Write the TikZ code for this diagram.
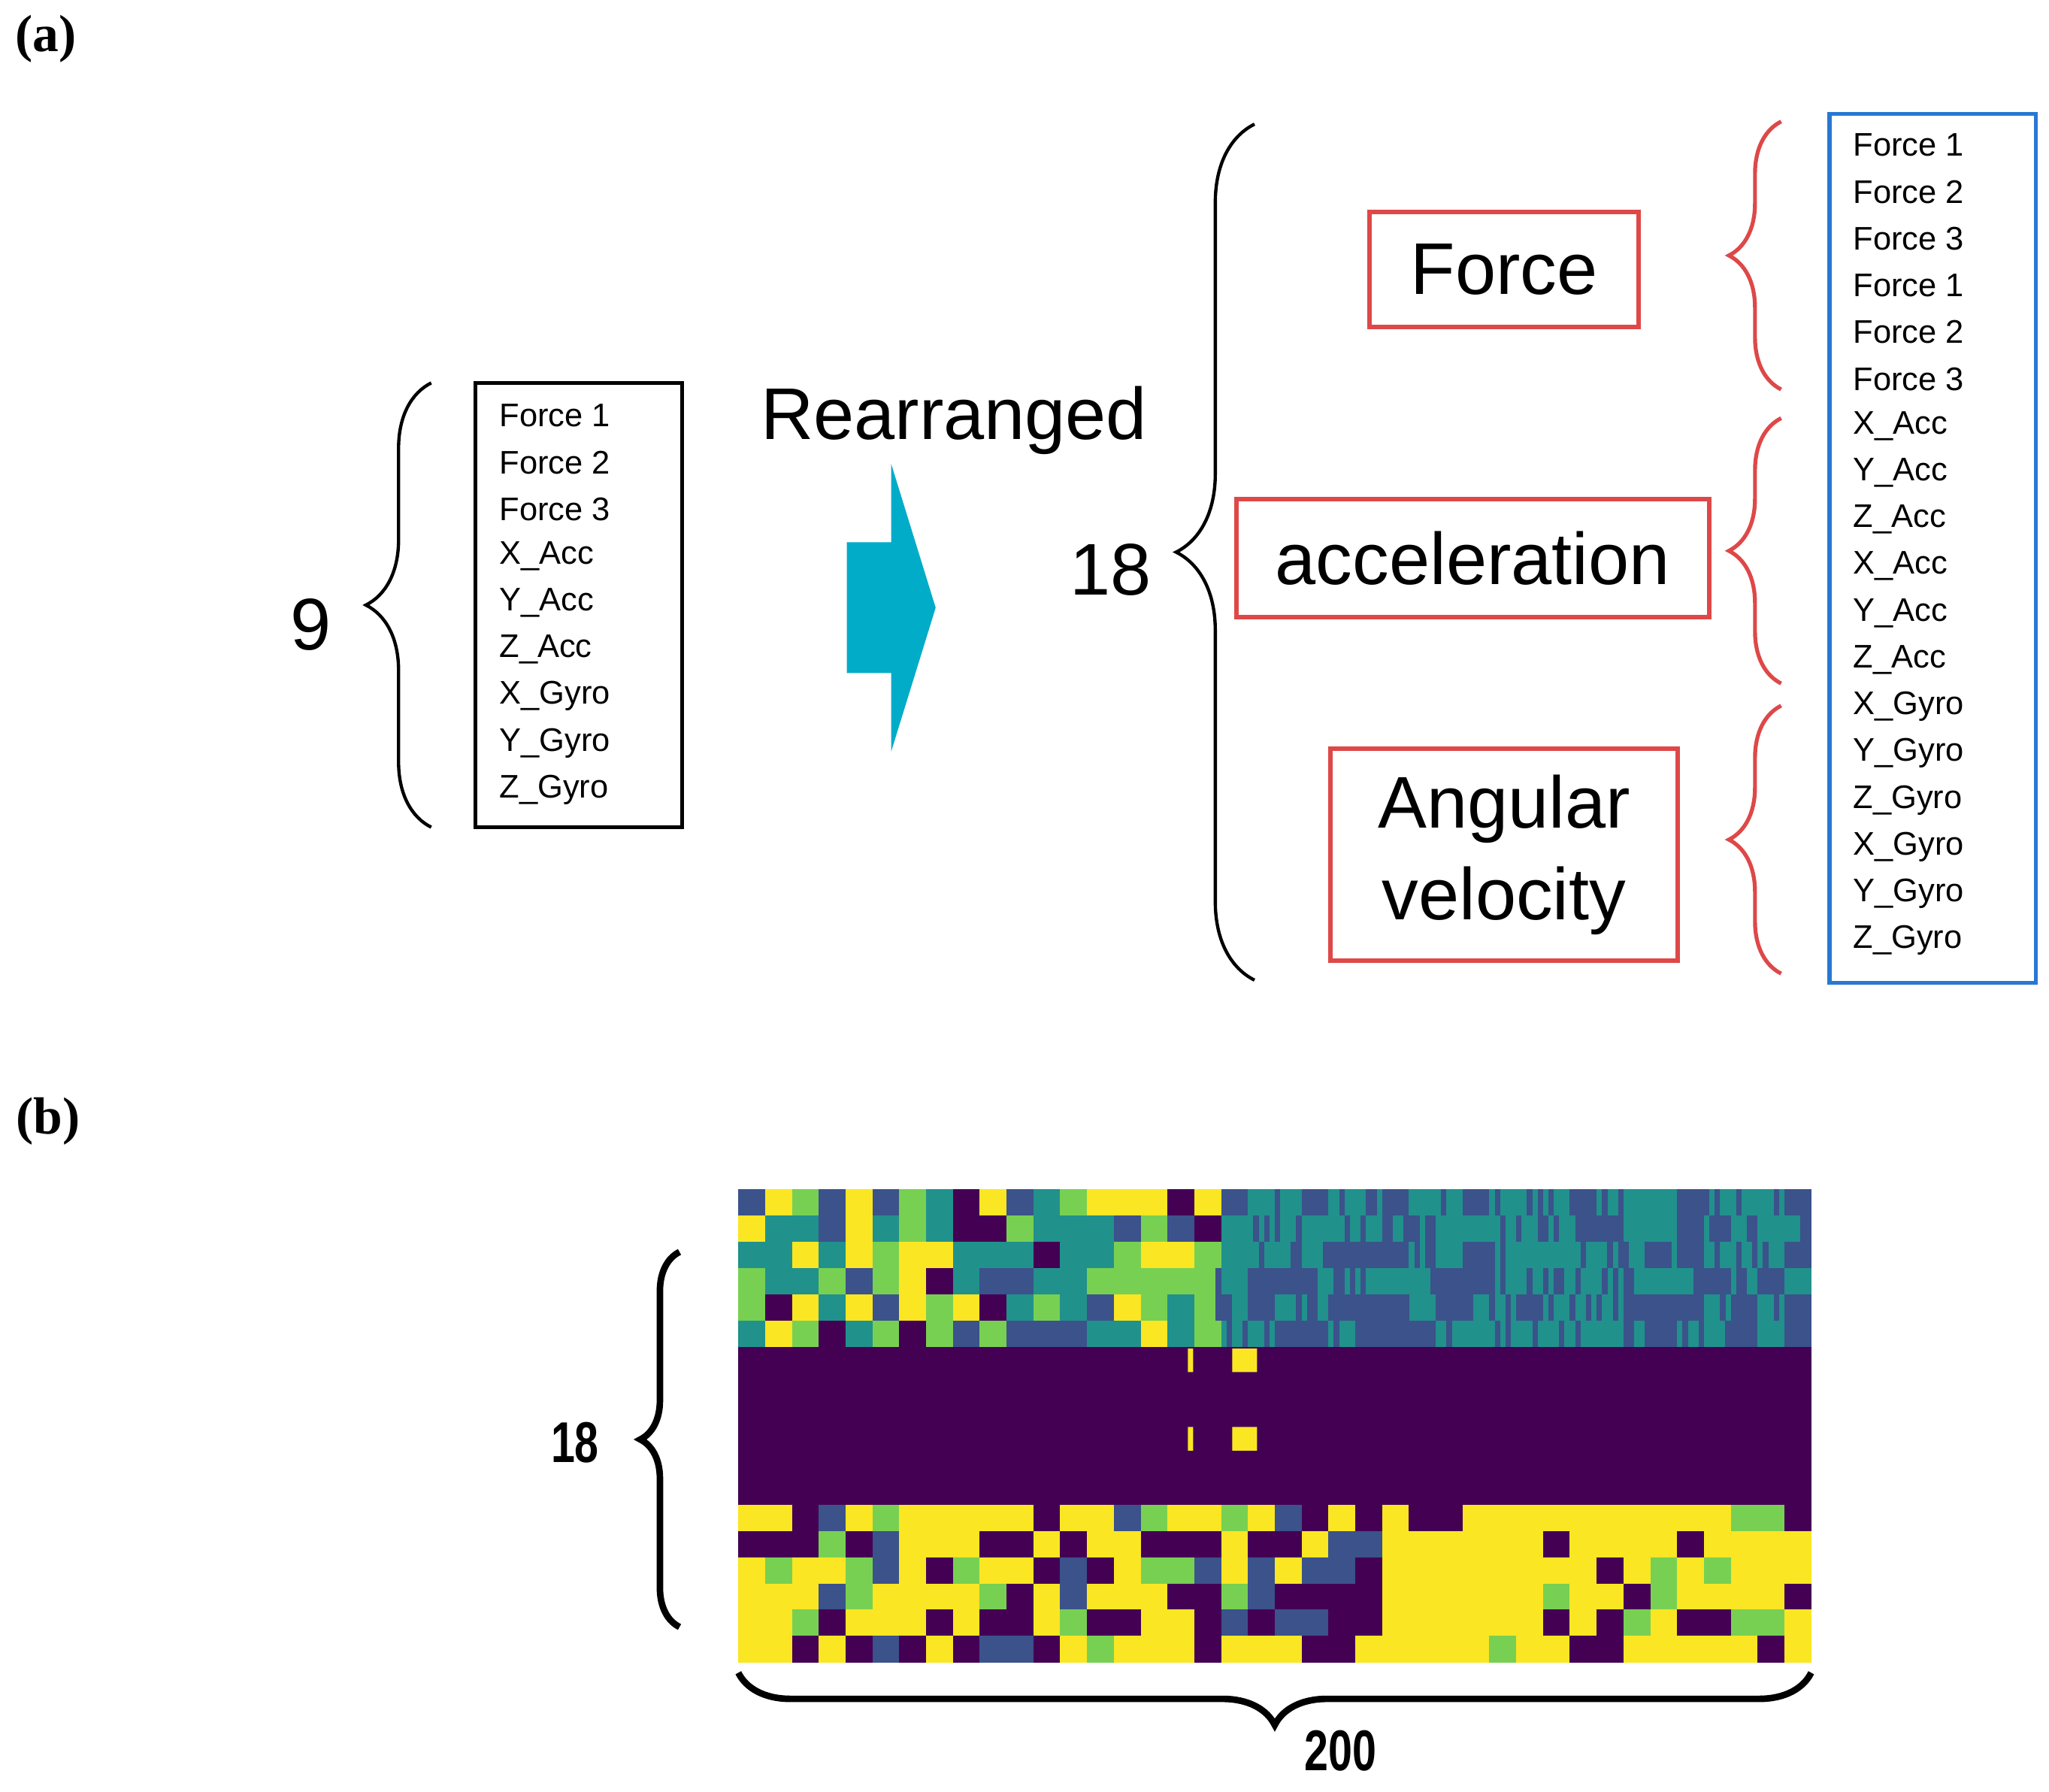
\documentclass[tikz,border=0pt]{standalone}
\usepackage{fontspec}
\setmainfont{Liberation Serif}
\newfontfamily\sansf{Liberation Sans}
\usetikzlibrary{positioning, decorations.pathreplacing}
\definecolor{redBox}{RGB}{222,72,72}
\definecolor{blueBox}{RGB}{40,120,210}
\definecolor{arrowCyan}{RGB}{0,172,200}
\definecolor{vp}{RGB}{68,1,84}
\definecolor{vb}{RGB}{59,82,139}
\definecolor{vt}{RGB}{33,145,140}
\definecolor{vg}{RGB}{120,208,82}
\definecolor{vy}{RGB}{250,230,35}
\tikzset{
  item/.style={anchor=west,inner sep=0pt,font=\sansf\fontsize{25}{28}\selectfont},
  bigtxt/.style={font=\sansf\fontsize{56}{60}\selectfont},
  redbox/.style={draw=redBox,line width=3.5pt,inner sep=0pt},
  bracebig/.style={decorate,decoration={brace,amplitude=25pt},line width=2.5pt},
  bracered/.style={decorate,decoration={brace,amplitude=40pt},line width=3pt,draw=redBox},
  bracebold/.style={decorate,decoration={brace,amplitude=16pt},line width=5pt},
  panel/.style={font=\bfseries\fontsize{40}{44}\selectfont,inner sep=0pt}
}
\begin{document}
\begin{tikzpicture}[x=1pt,y=-1pt]
\path[use as bounding box,fill=white] (0,0) rectangle (1568,1371);
\node[panel] (pa) at (35,30) {(a)};
\node[panel] (pb) at (37,858) {(b)};
% left column
\node[draw,line width=3pt,minimum width=158pt,minimum height=340pt,inner sep=0pt] (left) at (443,463) {};
\foreach \t [count=\i from 0] in {Force 1,Force 2,Force 3,X\_Acc,Y\_Acc,Z\_Acc,X\_Gyro,Y\_Gyro,Z\_Gyro}
  \node[item] (l\i) at (382,318+\i*35.8) {\t};
\coordinate (lb1) at (330,633);
\coordinate (lb2) at (330,293);
\draw[bracebig,decoration={amplitude=50pt}] (lb1) -- (lb2);
\node[bigtxt] (nine) at (238,478) {9};
% arrow
\node[bigtxt] (rearr) at (730,322) {Rearranged};
\fill[arrowCyan] (648,415) -- (682,415) -- (682,355) -- (716,465) -- (682,575) -- (682,515) -- (648,515) -- cycle;
\node[bigtxt] (eighteen) at (850,436) {18};
\coordinate (bb1) at (960,750);
\coordinate (bb2) at (960,95);
\draw[bracebig,decoration={amplitude=60pt}] (bb1) -- (bb2);
% groups
\node[redbox,minimum width=206pt,minimum height=88pt,bigtxt] (force) at (1151,206) {Force};
\node[redbox,minimum width=362pt,minimum height=90pt,bigtxt] (acc) at (1127,427) {acceleration};
\node[redbox,minimum width=266pt,minimum height=162pt,bigtxt,align=center,font=\sansf\fontsize{56}{70}\selectfont] (ang) at (1151,654) {Angular\\velocity};
\foreach \a/\b in {298/93,523/320,745/540}{
  \coordinate (rb1) at (1363,\a);
  \coordinate (rb2) at (1363,\b);
  \draw[bracered] (rb1) -- (rb2);
}
\node[draw=blueBox,line width=3pt,minimum width=158pt,minimum height=665pt,inner sep=0pt] (right) at (1479,419.5) {};
\foreach \t [count=\i from 0] in {Force 1,Force 2,Force 3,Force 1,Force 2,Force 3,X\_Acc,Y\_Acc,Z\_Acc,X\_Acc,Y\_Acc,Z\_Acc,X\_Gyro,Y\_Gyro,Z\_Gyro,X\_Gyro,Y\_Gyro,Z\_Gyro}
  \node[item] (r\i) at (1418,111+\i*35.8) {\t};
% heatmap
\pgfmathsetseed{7}
\fill[vp] (565,910) rectangle (1386,1272);
\foreach \row in {0,...,5}{
  \foreach \col in {0,...,39}{
    \ifnum\col<18
      \pgfmathparse{{"vt","vg","vy","vb","vg","vt","vy","vp"}[int(random(0,7))]}
    \else
      \pgfmathparse{{"vt","vt","vt","vb"}[int(random(0,3))]}
    \fi
    \edef\cc{\pgfmathresult}
    \fill[\cc] (565+\col*20.525,910+\row*20.11) rectangle (565+\col*20.525+20.6,910+\row*20.11+20.2);
  }
  \foreach \col in {89,...,199}{
    \pgfmathparse{int(random(0,3))}
    \ifnum\pgfmathresult=0
      \fill[vb] (565+\col*4.105,910+\row*20.11) rectangle (565+\col*4.105+4.2,910+\row*20.11+20.2);
    \fi
  }
}
\foreach \row in {12,...,17}
  \foreach \col in {0,...,39}{
    \ifnum\col<19
      \pgfmathparse{{"vy","vy","vy","vp","vg","vb","vy","vp"}[int(random(0,7))]}
    \else\ifnum\col<24
      \pgfmathparse{{"vp","vb","vp","vy"}[int(random(0,3))]}
    \else\ifnum\col<39
      \pgfmathparse{{"vy","vy","vy","vg","vy","vp","vy"}[int(random(0,6))]}
    \else
      \pgfmathparse{{"vp","vy"}[int(random(0,1))]}
    \fi\fi\fi
    \edef\cc{\pgfmathresult}
    \fill[\cc] (565+\col*20.525,910+\row*20.11) rectangle (565+\col*20.525+20.6,910+\row*20.11+20.2);
  }
\fill[vy] (943,1032) rectangle (962,1050) (943,1092) rectangle (962,1110);
\fill[vy] (909,1032) rectangle (913,1050) (909,1092) rectangle (913,1110);
\coordinate (hb1) at (520,1245);
\coordinate (hb2) at (520,958);
\draw[bracebold,decoration={amplitude=30pt}] (hb1) -- (hb2);
\node[font=\sansf\bfseries\fontsize{44}{48}\selectfont,xscale=0.75] (n18) at (440,1104) {18};
\coordinate (wb1) at (565,1280);
\coordinate (wb2) at (1386,1280);
\draw[bracebold,decoration={amplitude=40pt,mirror}] (wb1) -- (wb2);
\node[font=\sansf\bfseries\fontsize{44}{48}\selectfont,xscale=0.75] (n200) at (1026,1340) {200};
\end{tikzpicture}
\end{document}
